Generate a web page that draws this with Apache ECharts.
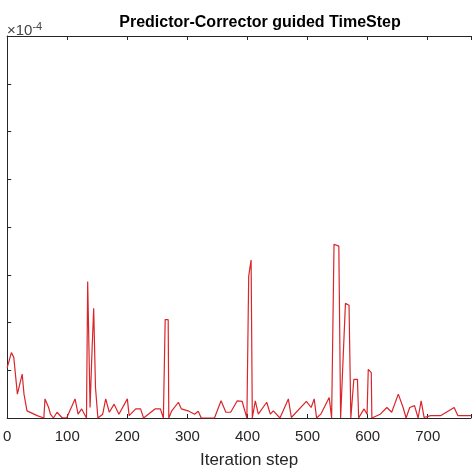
<!DOCTYPE html>
<html><head><meta charset="utf-8">
<script src="https://cdn.jsdelivr.net/npm/echarts@6/dist/echarts.min.js"></script>
<style>html,body{margin:0;padding:0;background:#fff}#c{width:474px;height:474px}</style>
</head><body><div id="c"></div>
<script>
// iteration step and timestep (x1e-4)
var steps = [0,7,11,17,20,25,28,33,50,61,63,69,72,77,83,91,99,113,118,124,132,134,138,141,144,147,151,159,164,170,178,186,200,203,214,222,227,246,255,260,263,268,269,274,285,290,301,312,318,323,345,356,364,372,383,391,399,402,406,408,413,418,432,438,443,454,468,473,498,506,511,515,522,536,540,544,552,555,563,569,572,577,583,585,594,599,601,606,607,621,632,640,651,659,664,670,678,684,689,694,705,722,744,750,772];
var dt = [1.05,1.37,1.27,0.5,0.46,0.92,0.5,0.15,0.05,0,0.4,0.22,0.08,0,0.12,0.01,0,0.4,0.08,0.19,0,2.86,0.22,1.33,2.3,0.64,0,0.08,0.4,0.12,0.29,0.08,0.4,0.05,0.19,0.19,0,0.19,0.19,0,2.06,2.06,0,0.15,0.33,0.19,0.15,0.08,0.14,0,0,0.36,0.12,0.12,0.36,0.35,0,2.97,3.31,0,0.36,0.08,0.33,0.08,0.15,0,0.4,0.01,0.35,0.22,0.4,0,0.08,0.43,0,3.64,3.6,0,2.4,2.36,0,0.81,0.81,0,0.19,0.08,1.02,0.95,0,0.08,0.22,0.12,0.5,0.22,0,0.22,0.26,0,0.36,0.01,0.05,0.05,0.22,0.05,0.05];
var xTicks = [0,100,200,300,400,500,600,700];

var chart = echarts.init(document.getElementById('c'));
var font = 'Liberation Sans, Arial, sans-serif';
var axisCol = '#262626';
chart.setOption({
  backgroundColor: '#fff',
  animation: false,
  title: [{
    text: 'Predictor-Corrector guided TimeStep',
    left: 255, top: 10, textAlign: 'center',
    textStyle: {fontFamily: font, fontSize: 16, fontWeight: 'bold', color: '#000'}
  }, {
    text: '×10{s|-4}',
    left: 2, top: 16,
    textStyle: {fontFamily: font, fontSize: 15, fontWeight: 'normal', color: '#444',
      rich: {s: {fontSize: 11, verticalAlign: 'top', padding: [0,0,9,0]}}}
  }],
  grid: {left: 3, right: 0, top: 36, bottom: 54},
  xAxis: [{
    type: 'value', min: 0, max: 772, interval: 100,
    name: 'Iteration step', nameLocation: 'middle', nameGap: 34,
    nameTextStyle: {fontFamily: font, fontSize: 17, color: '#262626', padding: [0,0,0,20]},
    axisLine: {lineStyle: {color: axisCol}},
    axisTick: {inside: true, length: 4, lineStyle: {color: axisCol}},
    axisLabel: {fontFamily: font, fontSize: 15, color: '#262626', margin: 11,
      formatter: function (v) { return xTicks.indexOf(v) >= 0 ? String(v) : ''; }},
    splitLine: {show: false}
  }, {
    type: 'value', min: 0, max: 772, interval: 100, position: 'top',
    axisLine: {show: true, lineStyle: {color: axisCol}},
    axisTick: {inside: true, length: 4, lineStyle: {color: axisCol}},
    axisLabel: {show: false}, splitLine: {show: false}
  }],
  yAxis: [{
    type: 'value', min: 0, max: 8, interval: 1,
    axisLine: {show: true, lineStyle: {color: axisCol}},
    axisTick: {show: true, inside: true, length: 4, lineStyle: {color: axisCol}},
    axisLabel: {show: false}, splitLine: {show: false}
  }],
  series: [{
    type: 'line', xAxisIndex: 0,
    data: steps.map(function (s, i) { return [s, dt[i]]; }),
    showSymbol: false,
    lineStyle: {color: '#d9262b', width: 1.2},
    itemStyle: {color: '#d9262b'}
  }]
});
</script></body></html>
